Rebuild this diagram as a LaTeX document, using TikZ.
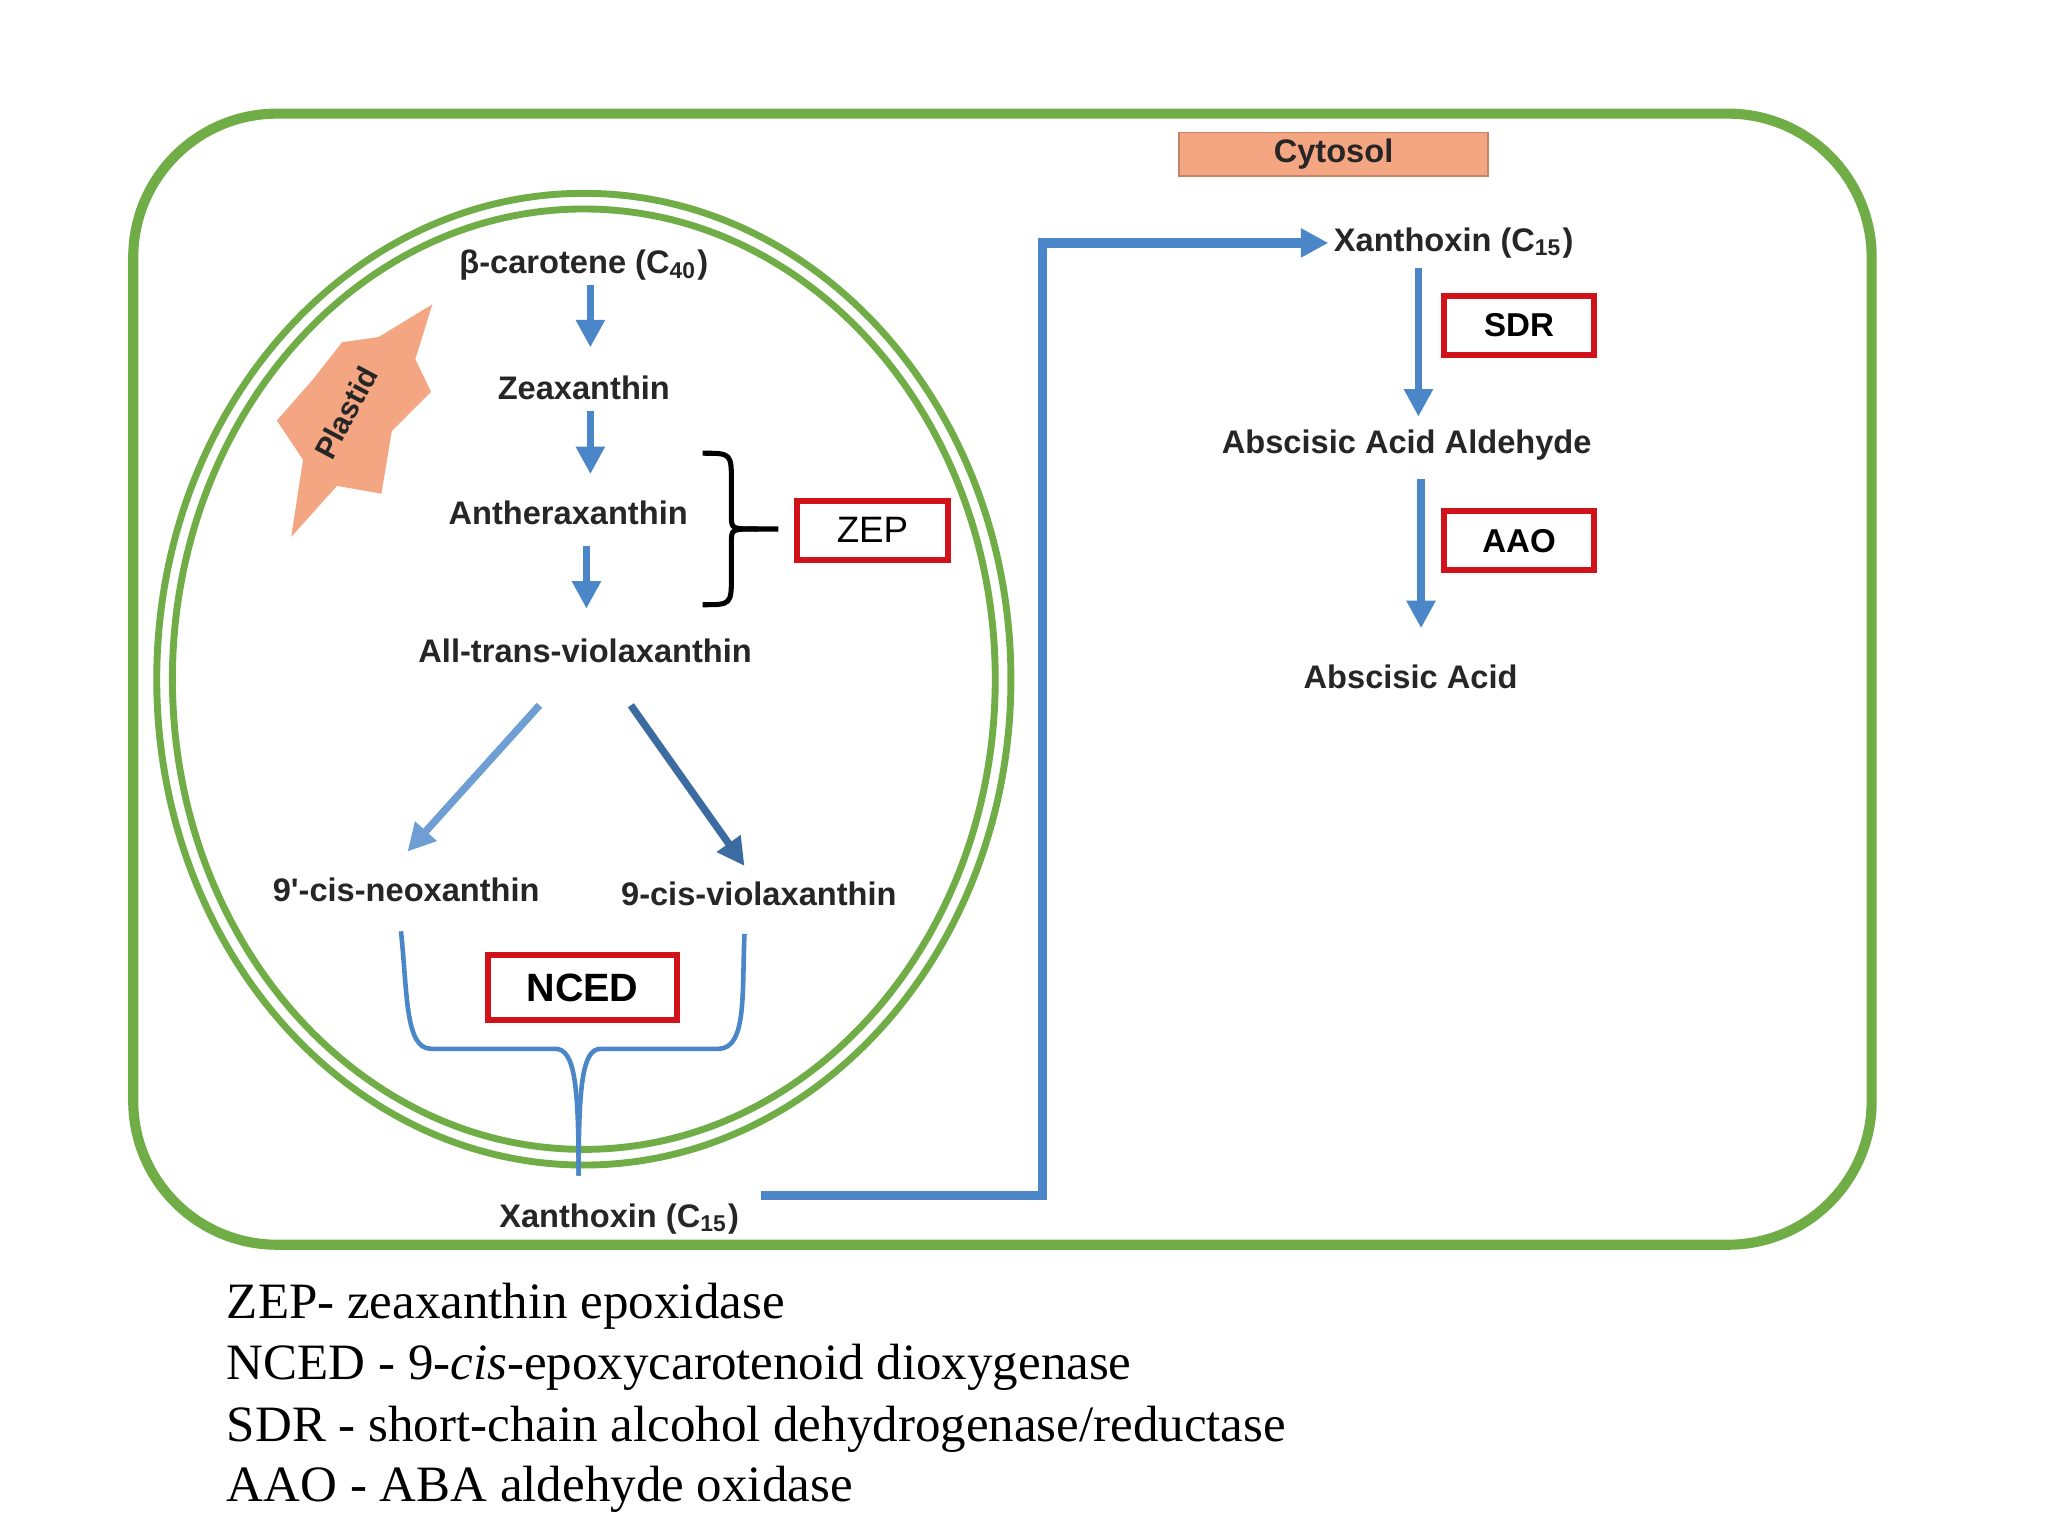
\documentclass[tikz,border=0pt]{standalone}
\usepackage{fontspec}
\setmainfont{Liberation Serif}
\newfontfamily\lab{Liberation Sans}
\usetikzlibrary{arrows.meta,decorations.pathreplacing}
\definecolor{cg}{HTML}{70AD47}
\definecolor{cb}{HTML}{4A86C8}
\definecolor{cr}{HTML}{D0121B}
\definecolor{cs}{HTML}{F4A582}
\begin{document}
\begin{tikzpicture}[x=0.01cm,y=-0.01cm,
 lbl/.style={font=\lab\bfseries\fontsize{7.1}{8}\selectfont,text=black!85,inner sep=1pt},
 enz/.style={draw=cr,line width=1.3pt,font=\lab\fontsize{8}{9}\selectfont,minimum width=1.15cm,minimum height=0.45cm},
 arr/.style={draw=cb,line width=1.6pt,-{Triangle[length=6pt,width=6pt]}},
 leg/.style={anchor=west,font=\fontsize{11.1}{12}\selectfont,inner sep=0pt}]
\useasboundingbox (0,0) rectangle (1568,1176);
\fill[white] (0,0) rectangle (1568,1176);
\draw[cg,line width=2.2pt,rounded corners=1.1cm] (102,87) rectangle (1433,953);
\draw[cg,line width=1.5pt] (447,520) ellipse [x radius=327,y radius=372];
\draw[cg,line width=1.5pt] (447,520) ellipse [x radius=315,y radius=360];
\node[fill=cs,draw=cs!80!black,minimum width=2.37cm,minimum height=0.33cm,lbl] (cyt) at (1021,118) {Cytosol};
\fill[cs] (331,233)--(318,275)--(330,300)--(300,330)--(292,378)--(258,372)--(223,411)--(232,352)--(212,322)--(240,290)--(262,262)--(290,258)--cycle;
\node[lbl,rotate=62,font=\lab\bfseries\fontsize{6.6}{8}\selectfont] (pl) at (265,316) {Plastid};
\node[lbl] (bc) at (447,203) {β-carotene (C\textsubscript{40})};
\node[lbl] (ze) at (447,297) {Zeaxanthin};
\node[lbl] (an) at (435,393) {Antheraxanthin};
\node[lbl] (av) at (448,498) {All-trans-violaxanthin};
\node[lbl] (ne) at (311,681) {9'-cis-neoxanthin};
\node[lbl] (vi) at (581,684) {9-cis-violaxanthin};
\node[enz,font=\lab\bfseries\fontsize{8.6}{10}\selectfont,minimum width=1.45cm,minimum height=0.5cm] (nced) at (446,756) {NCED};
\node[lbl] (x1) at (474,933) {Xanthoxin (C\textsubscript{15})};
\node[enz] (zep) at (668,406) {ZEP};
\draw[arr] (452,218)--(452,266);
\draw[arr] (452,315)--(452,363);
\draw[arr] (449,418)--(449,466);
\draw[arr,draw=cb!80!white] (413,540)--(312,652);
\draw[arr,draw=cb!80!black] (483,540)--(570,663);
\draw[black,line width=1.1pt] (538,347) .. controls (560,347) .. (560,370) -- (560,395) .. controls (560,405) .. (580,405) -- (596,405);
\draw[black,line width=1.1pt] (538,463) .. controls (560,463) .. (560,440) -- (560,415) .. controls (560,405) .. (580,405);
\draw[cb,line width=1pt] (307,713) .. controls (312,760) and (310,803) .. (330,803) -- (425,803) .. controls (440,803) and (443,830) .. (443,900);
\draw[cb,line width=1pt] (570,715) .. controls (568,760) and (572,803) .. (550,803) -- (460,803) .. controls (446,803) and (443,830) .. (443,900);
\coordinate (c1) at (798,915);
\coordinate (c2) at (798,186);
\node[lbl] (x2) at (1113,186) {Xanthoxin (C\textsubscript{15})};
\draw[arr,line width=2pt] (583,915)--(c1)--(c2)--(x2.west);
\node[lbl] (aa) at (1077,341) {Abscisic Acid Aldehyde};
\node[lbl] (ab) at (1080,518) {Abscisic Acid};
\node[enz,font=\lab\bfseries\fontsize{7.2}{9}\selectfont] (sdr) at (1163,249) {SDR};
\node[enz,font=\lab\bfseries\fontsize{7.2}{9}\selectfont] (aao) at (1163,414) {AAO};
\draw[arr] (1086,205)--(1086,319);
\draw[arr] (1088,367)--(1088,481);
\node[leg] (l1) at (173,1000) {ZEP- zeaxanthin epoxidase};
\node[leg] (l2) at (173,1047) {NCED - 9-\textit{cis}-epoxycarotenoid dioxygenase};
\node[leg] (l3) at (173,1094) {SDR - short-chain alcohol dehydrogenase/reductase};
\node[leg] (l4) at (173,1140) {AAO - ABA aldehyde oxidase};
\end{tikzpicture}
\end{document}
